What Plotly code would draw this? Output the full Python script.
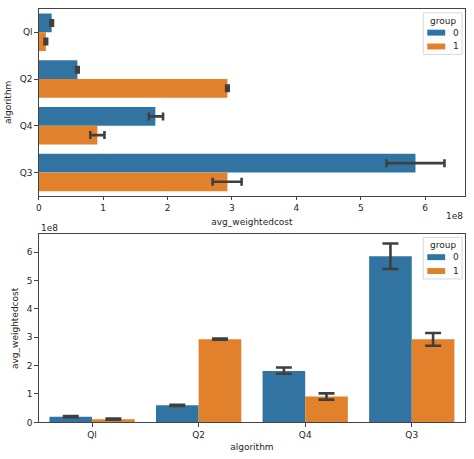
import plotly.graph_objects as go

algorithms = ["Ql", "Q2", "Q4", "Q3"]
groups = ["0", "1"]
# mean values per group
g0_values = [2.0e7, 6.0e7, 1.81e8, 5.85e8]
g1_values = [1.1e7, 2.93e8, 0.91e8, 2.93e8]
# confidence interval bounds
g0_low = [1.8e7, 5.8e7, 1.71e8, 5.40e8]
g0_high = [2.2e7, 6.2e7, 1.93e8, 6.30e8]
g1_low = [0.9e7, 2.91e8, 0.80e8, 2.70e8]
g1_high = [1.3e7, 2.95e8, 1.02e8, 3.15e8]
tick_vals = [0, 1e8, 2e8, 3e8, 4e8, 5e8, 6e8]
tick_text = ["0", "1", "2", "3", "4", "5", "6"]

colors = ["#3274a1", "#e1812c"]
err_color = "#3f3f3f"
W, H = 474, 459
FONT = "DejaVu Sans"

series = [
    (groups[0], g0_values, g0_low, g0_high, colors[0]),
    (groups[1], g1_values, g1_low, g1_high, colors[1]),
]

fig = go.Figure()
for name, vals, lo, hi, col in series:
    plus = [h - v for h, v in zip(hi, vals)]
    minus = [v - l for v, l in zip(vals, lo)]
    fig.add_trace(go.Bar(
        x=vals, y=algorithms, orientation="h", name=name, marker_color=col,
        marker_line_width=0, xaxis="x", yaxis="y", showlegend=False,
        error_x=dict(type="data", array=plus, arrayminus=minus, color=err_color,
                     thickness=2.6, width=4),
    ))
for name, vals, lo, hi, col in series:
    plus = [h - v for h, v in zip(hi, vals)]
    minus = [v - l for v, l in zip(vals, lo)]
    fig.add_trace(go.Bar(
        x=algorithms, y=vals, name=name, marker_color=col,
        marker_line_width=0, xaxis="x2", yaxis="y2", showlegend=False,
        error_y=dict(type="data", array=plus, arrayminus=minus, color=err_color,
                     thickness=2.6, width=8),
    ))

x0, x1 = 36 / W, 465 / W
axis_common = dict(showline=True, linecolor="#444", linewidth=1, mirror=True,
                   ticks="outside", ticklen=3.5, tickcolor="#444", showgrid=False,
                   zeroline=False, tickfont=dict(size=9, color="#262626"))

# manual legends (pixel layout)
shapes = []
annotations = [
    dict(text="1e8", x=465 / W, y=1 - 218 / H, xref="paper", yref="paper",
         xanchor="right", yanchor="middle", showarrow=False, font=dict(size=9)),
    dict(text="1e8", x=36 / W, y=1 - 231 / H, xref="paper", yref="paper",
         xanchor="left", yanchor="middle", showarrow=False, font=dict(size=9)),
]
for top in (13, 240):
    shapes.append(dict(type="rect", xref="paper", yref="paper",
                       x0=423 / W, x1=462 / W, y0=1 - (top + 42) / H, y1=1 - top / H,
                       line=dict(color="#d8d8d8", width=1), fillcolor="rgba(255,255,255,0.85)",
                       layer="above"))
    annotations.append(dict(text="group", x=442.5 / W, y=1 - (top + 8) / H,
                            xref="paper", yref="paper", xanchor="center", yanchor="middle",
                            showarrow=False, font=dict(size=9)))
    for i, (name, col) in enumerate(zip(groups, colors)):
        cy = top + 20 + i * 14
        shapes.append(dict(type="rect", xref="paper", yref="paper",
                           x0=427 / W, x1=445 / W, y0=1 - (cy + 3) / H, y1=1 - (cy - 3) / H,
                           line=dict(width=0), fillcolor=col, layer="above"))
        annotations.append(dict(text=name, x=451 / W, y=1 - cy / H, xref="paper",
                                yref="paper", xanchor="left", yanchor="middle",
                                showarrow=False, font=dict(size=9)))

fig.update_layout(
    width=W, height=H, margin=dict(l=0, r=0, t=0, b=0),
    paper_bgcolor="white", plot_bgcolor="white",
    font=dict(family=FONT, size=9, color="#262626"),
    barmode="group", bargap=0.2, bargroupgap=0,
    xaxis=dict(domain=[x0, x1], anchor="y", range=[0, 6.62e8],
               tickvals=tick_vals, ticktext=tick_text,
               title=dict(text="avg_weightedcost", standoff=6, font=dict(size=9)),
               **axis_common),
    yaxis=dict(domain=[1 - 198 / H, 1 - 9 / H], anchor="x",
               range=[3.5, -0.5], type="category",
               title=dict(text="algorithm", standoff=6, font=dict(size=9)),
               **axis_common),
    xaxis2=dict(domain=[x0, x1], anchor="y2", type="category", range=[-0.5, 3.5],
                title=dict(text="algorithm", standoff=5, font=dict(size=9)),
                **axis_common),
    yaxis2=dict(domain=[1 - 427 / H, 1 - 237 / H], anchor="x2", range=[0, 6.62e8],
                tickvals=tick_vals, ticktext=tick_text,
                title=dict(text="avg_weightedcost", standoff=6, font=dict(size=9)),
                **axis_common),
    shapes=shapes,
    annotations=annotations,
)

fig.write_html("out.html")
